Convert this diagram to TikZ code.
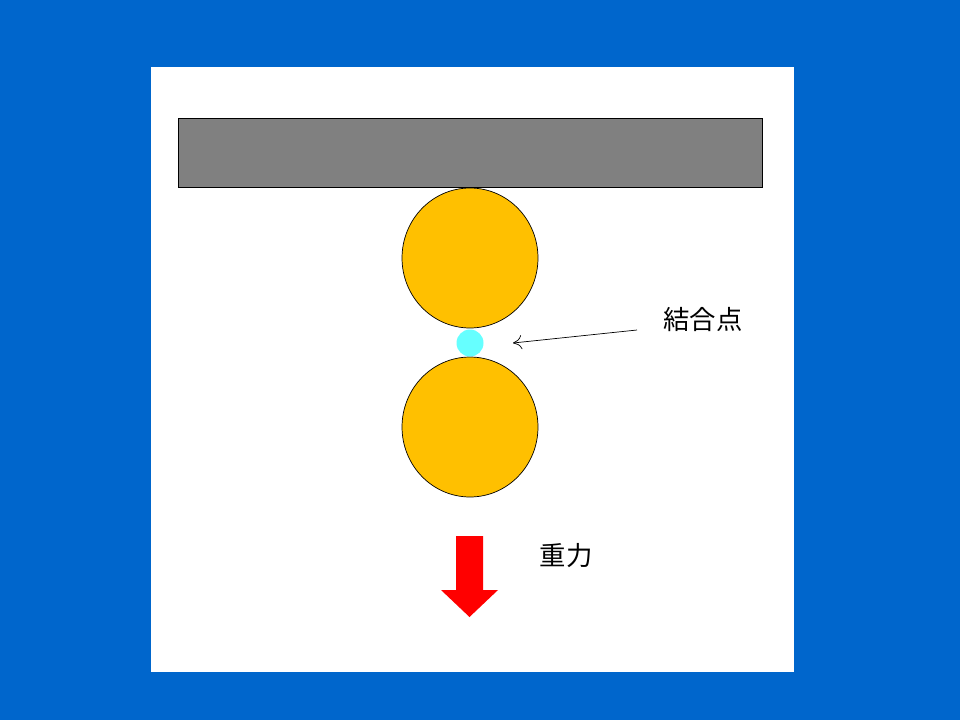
\documentclass[tikz,border=0pt]{standalone}
\usepackage{fontspec}
\newfontfamily\jpfont{Noto Sans CJK JP}
\usetikzlibrary{shapes.geometric,arrows.meta}
\definecolor{slideblue}{HTML}{0066CC}
\definecolor{ballorange}{HTML}{FFC000}
\definecolor{jointcyan}{HTML}{66FFFF}
\begin{document}
\begin{tikzpicture}
  [x=0.02cm,y=-0.02cm,
   ball/.style={ellipse,draw=black,fill=ballorange,minimum width=2.72cm,minimum height=2.8cm,inner sep=0pt},
   joint/.style={circle,fill=jointcyan,minimum size=0.54cm,inner sep=0pt},
   caption/.style={font=\jpfont\fontsize{15}{18}\selectfont,inner sep=0pt}]
  \fill[slideblue] (0,0) rectangle (960,720);
  \fill[white] (151,67) rectangle (794,672);

  \node[draw=black,fill=gray,minimum width=11.68cm,minimum height=1.38cm,inner sep=0pt] (bar) at (470,152.5) {};
  \node[ball] (upper) at (470,258) {};
  \node[ball] (lower) at (470,427) {};
  \node[joint] (pin) at (470,343) {};

  \node[caption] (lbl) at (703,320) {結合点};
  \coordinate (tail) at (637,330);
  \coordinate (tip) at (513,343);
  \draw[-{To[length=5pt,width=8pt]},thin] (tail) -- (tip);

  \node[caption] (grav) at (566,556) {重力};
  \fill[red] (456,536) -- (483,536) -- (483,590) -- (498,590) -- (469.5,617)
    -- (441,590) -- (456,590) -- cycle;

\end{tikzpicture}
\end{document}
